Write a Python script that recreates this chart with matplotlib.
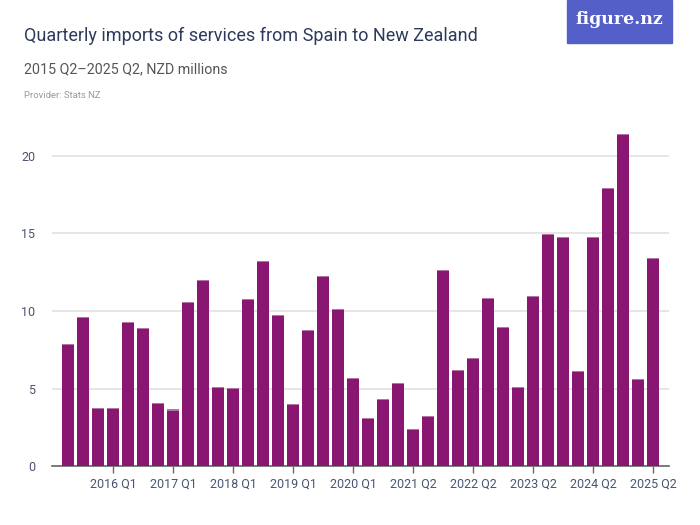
import matplotlib
matplotlib.use("Agg")
import matplotlib.pyplot as plt
from matplotlib.patches import Rectangle

values = [7.9, 9.6, 3.75, 3.75, 9.3, 8.9, 4.05, 3.65, 10.6, 12.0,
          5.1, 5.05, 10.75, 13.2, 9.75, 4.0, 8.8, 12.25, 10.15, 5.7,
          3.1, 4.35, 5.35, 2.4, 3.2, 12.65, 6.2, 7.0, 10.85, 9.0,
          5.1, 10.95, 14.95, 14.8, 6.15, 14.8, 17.95, 21.45, 5.6, 13.4]
tick_index = [3, 7, 11, 15, 19, 23, 27, 31, 35, 39]
tick_labels = ["2016 Q1", "2017 Q1", "2018 Q1", "2019 Q1", "2020 Q1",
               "2021 Q2", "2022 Q2", "2023 Q2", "2024 Q2", "2025 Q2"]
y_ticks = [0, 5, 10, 15, 20]

FONT = ["Roboto", "DejaVu Sans"]
plt.rcParams['font.family'] = FONT

W, H = 700, 525
fig = plt.figure(figsize=(7, 5.25), dpi=100)
left, right, bottom, top = 52, 669, 466, 132
ax = fig.add_axes([left / W, 1 - bottom / H, (right - left) / W, (bottom - top) / H])

bar_color = "#891670"
x = list(range(len(values)))
ax.bar(x, values, width=0.82, color=bar_color, zorder=3)
ax.bar(x, [0.07] * len(values), bottom=[v - 0.07 for v in values], width=0.82,
       color="#b673a5", zorder=4)

ax.set_xlim(-1.09, 40.07)
ax.set_ylim(0, (bottom - top) / 15.5)
ax.set_yticks(y_ticks)
ax.set_yticklabels([str(v) for v in y_ticks])
ax.set_xticks(tick_index)
ax.set_xticklabels(tick_labels)

ax.grid(axis="y", color="#e2e2e2", linewidth=1.2, zorder=0)
ax.grid(axis="x", visible=False)
for s in ["top", "right", "left"]:
    ax.spines[s].set_visible(False)
ax.spines["bottom"].set_color("#666666")
ax.spines["bottom"].set_linewidth(1.2)
ax.tick_params(axis="y", length=0, pad=12, labelsize=9, labelcolor="#4a5470")
ax.tick_params(axis="x", length=5, width=1, color="#666666", pad=3,
               labelsize=9, labelcolor="#4a5470")

fig.text(24 / W, 1 - 36 / H, "Quarterly imports of services from Spain to New Zealand",
         fontsize=13, color="#2e3a5c", va="center", ha="left")
fig.text(24 / W, 1 - 69 / H, "2015 Q2\u20132025 Q2, NZD millions",
         fontsize=10.3, color="#555555", va="center", ha="left")
fig.text(24 / W, 1 - 95 / H, "Provider: Stats NZ",
         fontsize=6.8, color="#9a9a9a", va="center", ha="left")

fig.patches.append(Rectangle((567 / W, 1 - 43 / H), 105 / W, 43 / H,
                             transform=fig.transFigure, color="#5460c8", zorder=0))
fig.text(619 / W, 1 - 19 / H, "figure.nz", fontsize=12.5, color="white",
         family=["DejaVu Serif"], weight="bold", ha="center", va="center")

fig.savefig("out.png", dpi=100)
